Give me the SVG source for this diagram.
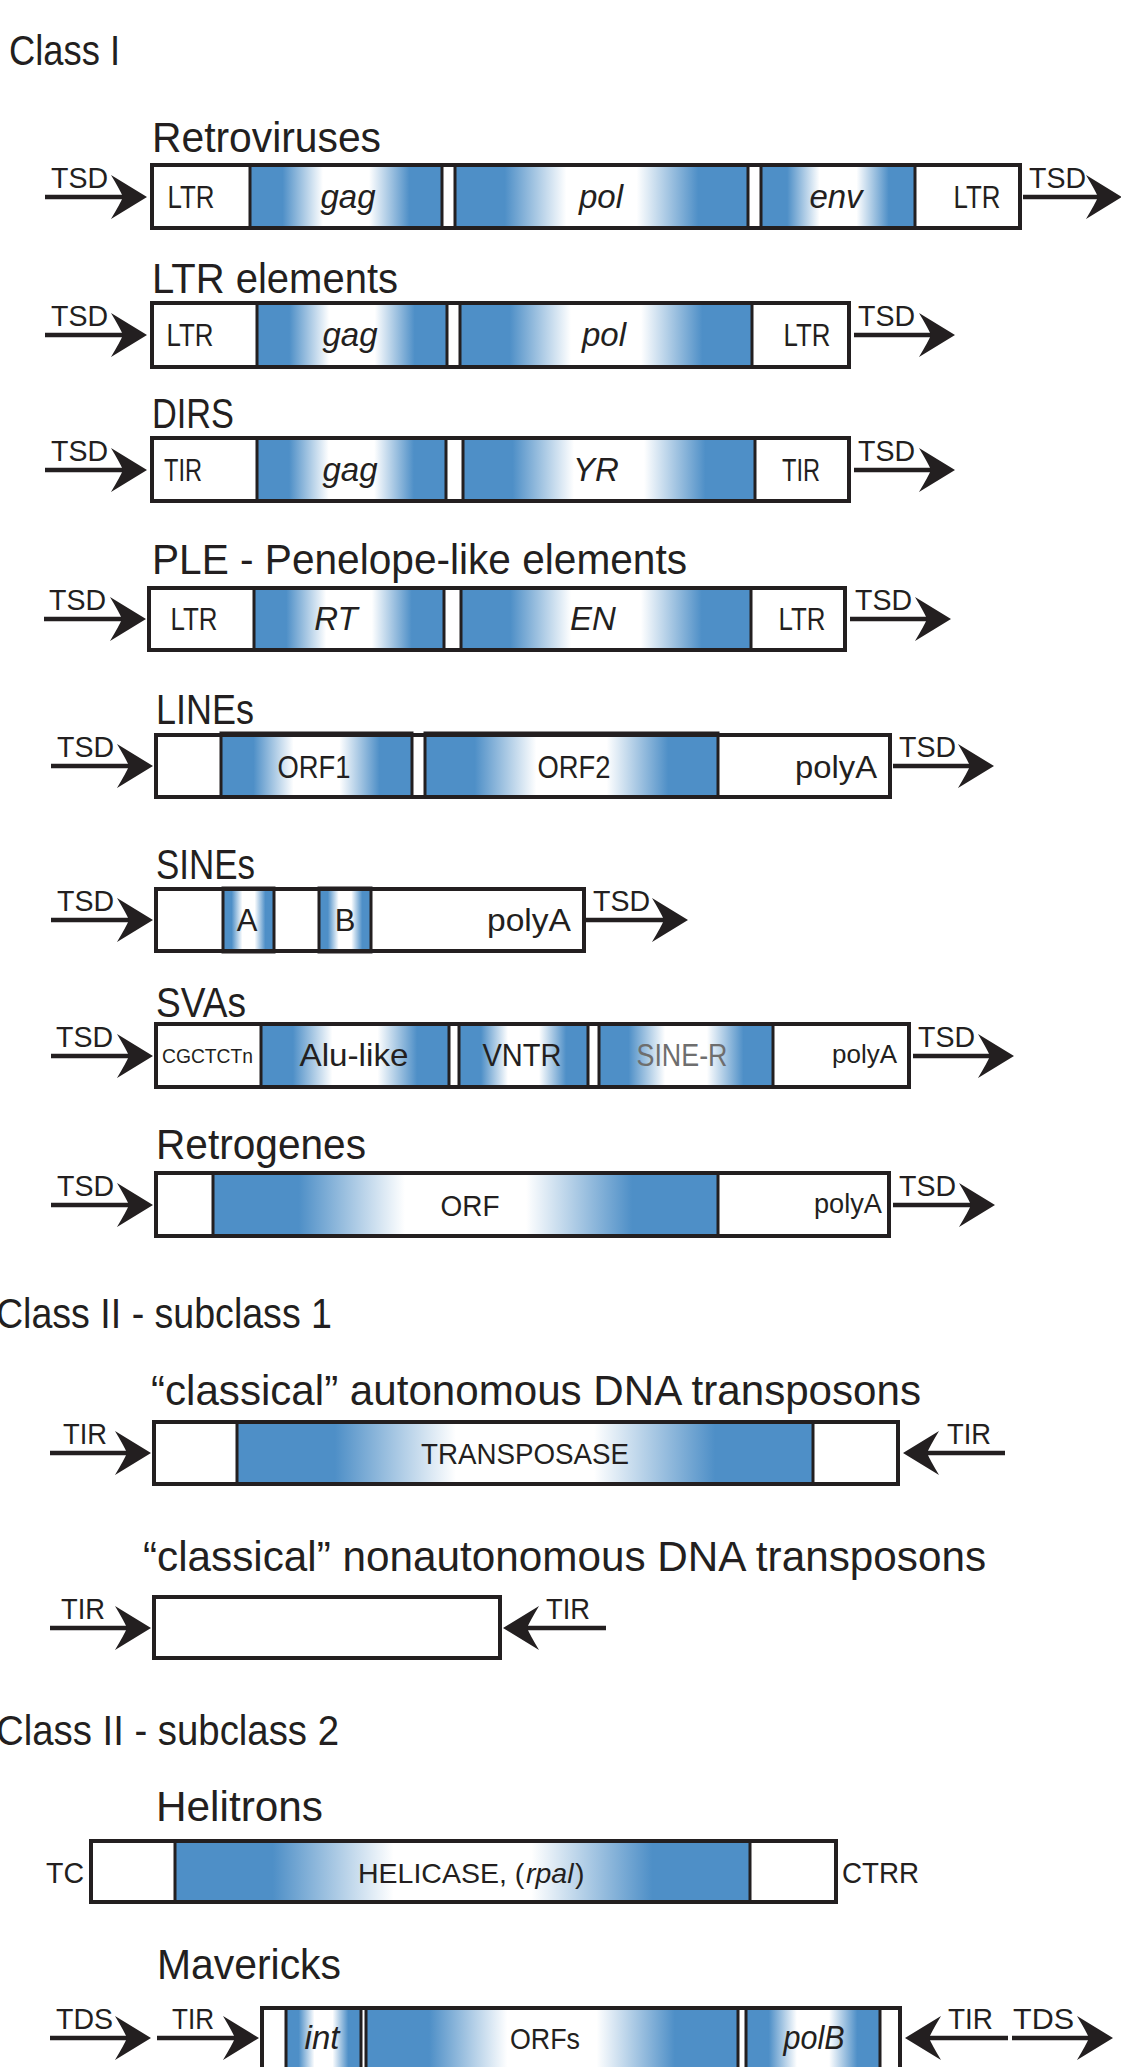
<svg xmlns="http://www.w3.org/2000/svg" width="1121" height="2067" viewBox="0 0 1121 2067">
<style>
.t{font-family:"Liberation Sans",Arial,sans-serif;fill:#231f20}
.ttl{font-size:42px}
.lab{font-size:31px}
.sm{font-size:30px}
.it{font-style:italic;font-size:33px}
.mid{text-anchor:middle}
.end{text-anchor:end}
.box{fill:#fff;stroke:none}
.frame{fill:none;stroke:#231f20;stroke-width:4}
.seg{fill:url(#bg);stroke:#231f20;stroke-width:3}
.arr{stroke:#231f20;stroke-width:4.5;fill:none;marker-end:url(#ah)}
</style>
<defs>
<linearGradient id="bg" x1="0" y1="0" x2="1" y2="0">
<stop offset="0" stop-color="#4e8fc7"/>
<stop offset="0.17" stop-color="#4e8fc7"/>
<stop offset="0.38" stop-color="#ffffff"/>
<stop offset="0.62" stop-color="#ffffff"/>
<stop offset="0.83" stop-color="#4e8fc7"/>
<stop offset="1" stop-color="#4e8fc7"/>
</linearGradient>
<marker id="ah" markerUnits="userSpaceOnUse" viewBox="-30 -30 60 60" markerWidth="60" markerHeight="60" refX="0" refY="0" orient="auto" overflow="visible">
<path d="M21,0 L-15,-22 Q-6,-7 -3,0 Q-6,7 -15,22 Z" fill="#231f20"/>
</marker>
</defs>
<rect x="0" y="0" width="1121" height="2067" fill="#fff"/>

<g id="headers">
<text class="t ttl" x="9" y="65" textLength="111" lengthAdjust="spacingAndGlyphs">Class I</text>
<text class="t ttl" x="-4" y="1328" textLength="336" lengthAdjust="spacingAndGlyphs">Class II - subclass 1</text>
<text class="t ttl" x="-4" y="1745" textLength="343" lengthAdjust="spacingAndGlyphs">Class II - subclass 2</text>
</g>

<g id="retroviruses">
<text class="t ttl" x="152" y="152" textLength="229" lengthAdjust="spacingAndGlyphs">Retroviruses</text>
<rect class="box" x="152" y="165" width="868" height="63"/>
<rect class="seg" x="250" y="165" width="192" height="63"/>
<rect class="seg" x="455" y="165" width="293" height="63"/>
<rect class="seg" x="761" y="165" width="154" height="63"/>
<rect class="frame" x="152" y="165" width="868" height="63"/>
<text class="t lab mid" x="191" y="208" textLength="47" lengthAdjust="spacingAndGlyphs">LTR</text>
<text class="t lab mid it" x="348" y="208">gag</text>
<text class="t lab mid it" x="601" y="208">pol</text>
<text class="t lab mid it" x="836" y="208">env</text>
<text class="t lab mid" x="977" y="208" textLength="47" lengthAdjust="spacingAndGlyphs">LTR</text>
<text class="t sm" x="51" y="188" textLength="57" lengthAdjust="spacingAndGlyphs">TSD</text>
<text class="t sm" x="1029" y="188" textLength="57" lengthAdjust="spacingAndGlyphs">TSD</text>
</g>

<g id="ltr-elements">
<text class="t ttl" x="152" y="293" textLength="246" lengthAdjust="spacingAndGlyphs">LTR elements</text>
<rect class="box" x="152" y="303" width="697" height="64"/>
<rect class="seg" x="257" y="303" width="190" height="64"/>
<rect class="seg" x="460" y="303" width="292" height="64"/>
<rect class="frame" x="152" y="303" width="697" height="64"/>
<text class="t lab mid" x="190" y="346" textLength="47" lengthAdjust="spacingAndGlyphs">LTR</text>
<text class="t lab mid it" x="350" y="346">gag</text>
<text class="t lab mid it" x="604" y="346">pol</text>
<text class="t lab mid" x="807" y="346" textLength="47" lengthAdjust="spacingAndGlyphs">LTR</text>
<text class="t sm" x="51" y="326" textLength="57" lengthAdjust="spacingAndGlyphs">TSD</text>
<text class="t sm" x="858" y="326" textLength="57" lengthAdjust="spacingAndGlyphs">TSD</text>
</g>

<g id="dirs">
<text class="t ttl" x="152" y="428" textLength="82" lengthAdjust="spacingAndGlyphs">DIRS</text>
<rect class="box" x="152" y="438" width="697" height="63"/>
<rect class="seg" x="257" y="438" width="189" height="63"/>
<rect class="seg" x="463" y="438" width="292" height="63"/>
<rect class="frame" x="152" y="438" width="697" height="63"/>
<text class="t lab mid" x="183" y="481" textLength="38" lengthAdjust="spacingAndGlyphs">TIR</text>
<text class="t lab mid it" x="350" y="481">gag</text>
<text class="t lab mid it" x="596" y="481">YR</text>
<text class="t lab mid" x="801" y="481" textLength="38" lengthAdjust="spacingAndGlyphs">TIR</text>
<text class="t sm" x="51" y="461" textLength="57" lengthAdjust="spacingAndGlyphs">TSD</text>
<text class="t sm" x="858" y="461" textLength="57" lengthAdjust="spacingAndGlyphs">TSD</text>
</g>

<g id="ple">
<text class="t ttl" x="152" y="574" textLength="535" lengthAdjust="spacingAndGlyphs">PLE - Penelope-like elements</text>
<rect class="box" x="149" y="588" width="696" height="62"/>
<rect class="seg" x="254" y="588" width="190" height="62"/>
<rect class="seg" x="461" y="588" width="290" height="62"/>
<rect class="frame" x="149" y="588" width="696" height="62"/>
<text class="t lab mid" x="194" y="630" textLength="47" lengthAdjust="spacingAndGlyphs">LTR</text>
<text class="t lab mid it" x="336" y="630">RT</text>
<text class="t lab mid it" x="593" y="630">EN</text>
<text class="t lab mid" x="802" y="630" textLength="47" lengthAdjust="spacingAndGlyphs">LTR</text>
<text class="t sm" x="49" y="610" textLength="57" lengthAdjust="spacingAndGlyphs">TSD</text>
<text class="t sm" x="855" y="610" textLength="57" lengthAdjust="spacingAndGlyphs">TSD</text>
</g>

<g id="lines">
<text class="t ttl" x="156" y="724" textLength="98" lengthAdjust="spacingAndGlyphs">LINEs</text>
<rect class="box" x="156" y="735" width="734" height="62"/>
<rect class="seg" x="221" y="733" width="191" height="64"/>
<rect class="seg" x="425" y="733" width="293" height="64"/>
<rect class="frame" x="156" y="735" width="734" height="62"/>
<text class="t lab mid" x="314" y="778" textLength="73" lengthAdjust="spacingAndGlyphs">ORF1</text>
<text class="t lab mid" x="574" y="778" textLength="73" lengthAdjust="spacingAndGlyphs">ORF2</text>
<text class="t lab end" x="877" y="778" textLength="82" lengthAdjust="spacingAndGlyphs">polyA</text>
<text class="t sm" x="57" y="757" textLength="57" lengthAdjust="spacingAndGlyphs">TSD</text>
<text class="t sm" x="899" y="757" textLength="57" lengthAdjust="spacingAndGlyphs">TSD</text>
</g>

<g id="sines">
<text class="t ttl" x="156" y="879" textLength="99" lengthAdjust="spacingAndGlyphs">SINEs</text>
<rect class="box" x="156" y="889" width="428" height="62"/>
<rect class="seg" x="223" y="888" width="51" height="64"/>
<rect class="seg" x="319" y="888" width="52" height="64"/>
<rect class="frame" x="156" y="889" width="428" height="62"/>
<text class="t lab mid" x="247" y="931">A</text>
<text class="t lab mid" x="345" y="931">B</text>
<text class="t lab end" x="571" y="931" textLength="84" lengthAdjust="spacingAndGlyphs">polyA</text>
<text class="t sm" x="57" y="911" textLength="57" lengthAdjust="spacingAndGlyphs">TSD</text>
<text class="t sm" x="593" y="911" textLength="57" lengthAdjust="spacingAndGlyphs">TSD</text>
</g>

<g id="svas">
<text class="t ttl" x="156" y="1017" textLength="90" lengthAdjust="spacingAndGlyphs">SVAs</text>
<rect class="box" x="156" y="1024" width="753" height="63"/>
<rect class="seg" x="261" y="1024" width="188" height="63"/>
<rect class="seg" x="459" y="1024" width="129" height="63"/>
<rect class="seg" x="599" y="1024" width="174" height="63"/>
<rect class="frame" x="156" y="1024" width="753" height="63"/>
<text class="t" x="162" y="1063" font-size="21" textLength="91" lengthAdjust="spacingAndGlyphs">CGCTCTn</text>
<text class="t mid" x="354" y="1066" font-size="32" textLength="109" lengthAdjust="spacingAndGlyphs">Alu-like</text>
<text class="t mid" x="522" y="1066" font-size="31" textLength="79" lengthAdjust="spacingAndGlyphs">VNTR</text>
<text class="t mid" x="682" y="1066" font-size="31" style="fill:#6e6e6e" textLength="91" lengthAdjust="spacingAndGlyphs">SINE-R</text>
<text class="t end" x="897" y="1063" font-size="26" textLength="65" lengthAdjust="spacingAndGlyphs">polyA</text>
<text class="t sm" x="56" y="1047" textLength="57" lengthAdjust="spacingAndGlyphs">TSD</text>
<text class="t sm" x="918" y="1047" textLength="57" lengthAdjust="spacingAndGlyphs">TSD</text>
</g>

<g id="retrogenes">
<text class="t ttl" x="156" y="1159" textLength="210" lengthAdjust="spacingAndGlyphs">Retrogenes</text>
<rect class="box" x="156" y="1173" width="733" height="63"/>
<rect class="seg" x="213" y="1173" width="505" height="63"/>
<rect class="frame" x="156" y="1173" width="733" height="63"/>
<text class="t mid" x="470" y="1216" font-size="30" textLength="59" lengthAdjust="spacingAndGlyphs">ORF</text>
<text class="t end" x="882" y="1213" font-size="27" textLength="68" lengthAdjust="spacingAndGlyphs">polyA</text>
<text class="t sm" x="57" y="1196" textLength="57" lengthAdjust="spacingAndGlyphs">TSD</text>
<text class="t sm" x="899" y="1196" textLength="57" lengthAdjust="spacingAndGlyphs">TSD</text>
</g>

<g id="autonomous-dna-transposons">
<text class="t ttl" x="151" y="1405" textLength="770" lengthAdjust="spacingAndGlyphs">“classical” autonomous DNA transposons</text>
<rect class="box" x="154" y="1422" width="744" height="62"/>
<rect class="seg" x="237" y="1422" width="576" height="62"/>
<rect class="frame" x="154" y="1422" width="744" height="62"/>
<text class="t mid" x="525" y="1464" font-size="30" textLength="208" lengthAdjust="spacingAndGlyphs">TRANSPOSASE</text>
<text class="t sm" x="63" y="1444" textLength="44" lengthAdjust="spacingAndGlyphs">TIR</text>
<text class="t sm" x="947" y="1444" textLength="44" lengthAdjust="spacingAndGlyphs">TIR</text>
</g>

<g id="nonautonomous-dna-transposons">
<text class="t ttl" x="143" y="1571" textLength="843" lengthAdjust="spacingAndGlyphs">“classical” nonautonomous DNA transposons</text>
<rect class="box" x="154" y="1597" width="346" height="61"/>
<rect class="frame" x="154" y="1597" width="346" height="61"/>
<text class="t sm" x="61" y="1619" textLength="44" lengthAdjust="spacingAndGlyphs">TIR</text>
<text class="t sm" x="546" y="1619" textLength="44" lengthAdjust="spacingAndGlyphs">TIR</text>
</g>

<g id="helitrons">
<text class="t ttl" x="156" y="1821" textLength="167" lengthAdjust="spacingAndGlyphs">Helitrons</text>
<rect class="box" x="91" y="1841" width="745" height="61"/>
<rect class="seg" x="175" y="1841" width="575" height="61"/>
<rect class="frame" x="91" y="1841" width="745" height="61"/>
<text class="t" x="358" y="1883" font-size="28.5">HELICASE, (</text>
<text class="t" x="526" y="1883" font-size="28.5" font-style="italic">rpal</text>
<text class="t" x="575" y="1883" font-size="28.5">)</text>
<text class="t" x="46" y="1883" font-size="30" textLength="38" lengthAdjust="spacingAndGlyphs">TC</text>
<text class="t" x="842" y="1883" font-size="30" textLength="77" lengthAdjust="spacingAndGlyphs">CTRR</text>
</g>

<g id="mavericks">
<text class="t ttl" x="157" y="1979" textLength="184" lengthAdjust="spacingAndGlyphs">Mavericks</text>
<rect class="box" x="262" y="2008" width="638" height="70"/>
<rect class="seg" x="286" y="2008" width="75" height="70"/>
<rect class="seg" x="366" y="2008" width="372" height="70"/>
<rect class="seg" x="746" y="2008" width="134" height="70"/>
<rect class="frame" x="262" y="2008" width="638" height="70"/>
<text class="t mid it" x="322" y="2049">int</text>
<text class="t mid" x="545" y="2049" font-size="30" textLength="70" lengthAdjust="spacingAndGlyphs">ORFs</text>
<text class="t mid it" x="814" y="2049" textLength="61" lengthAdjust="spacingAndGlyphs">polB</text>
<text class="t sm" x="56" y="2029" textLength="57" lengthAdjust="spacingAndGlyphs">TDS</text>
<text class="t sm" x="172" y="2029" textLength="42" lengthAdjust="spacingAndGlyphs">TIR</text>
<text class="t sm" x="948" y="2029" textLength="45" lengthAdjust="spacingAndGlyphs">TIR</text>
<text class="t sm" x="1013" y="2029" textLength="61" lengthAdjust="spacingAndGlyphs">TDS</text>
</g>

<g id="connectors">
<line class="arr" x1="45" y1="197" x2="126" y2="197"/>
<line class="arr" x1="1023" y1="197" x2="1101" y2="197"/>
<line class="arr" x1="45" y1="335" x2="126" y2="335"/>
<line class="arr" x1="854" y1="335" x2="934" y2="335"/>
<line class="arr" x1="45" y1="470" x2="126" y2="470"/>
<line class="arr" x1="854" y1="470" x2="934" y2="470"/>
<line class="arr" x1="44" y1="619" x2="125" y2="619"/>
<line class="arr" x1="850" y1="619" x2="930" y2="619"/>
<line class="arr" x1="51" y1="766" x2="132" y2="766"/>
<line class="arr" x1="893" y1="766" x2="973" y2="766"/>
<line class="arr" x1="51" y1="920" x2="132" y2="920"/>
<line class="arr" x1="586" y1="920" x2="667" y2="920"/>
<line class="arr" x1="51" y1="1056" x2="132" y2="1056"/>
<line class="arr" x1="913" y1="1056" x2="993" y2="1056"/>
<line class="arr" x1="51" y1="1205" x2="132" y2="1205"/>
<line class="arr" x1="893" y1="1205" x2="974" y2="1205"/>
<line class="arr" x1="50" y1="1453" x2="130" y2="1453"/>
<line class="arr" x1="1005" y1="1453" x2="924" y2="1453"/>
<line class="arr" x1="50" y1="1628" x2="130" y2="1628"/>
<line class="arr" x1="606" y1="1628" x2="524" y2="1628"/>
<line class="arr" x1="50" y1="2038" x2="130" y2="2038"/>
<line class="arr" x1="157" y1="2038" x2="238" y2="2038"/>
<line class="arr" x1="1008" y1="2038" x2="926" y2="2038"/>
<line class="arr" x1="1012" y1="2038" x2="1092" y2="2038"/>
</g>
</svg>
